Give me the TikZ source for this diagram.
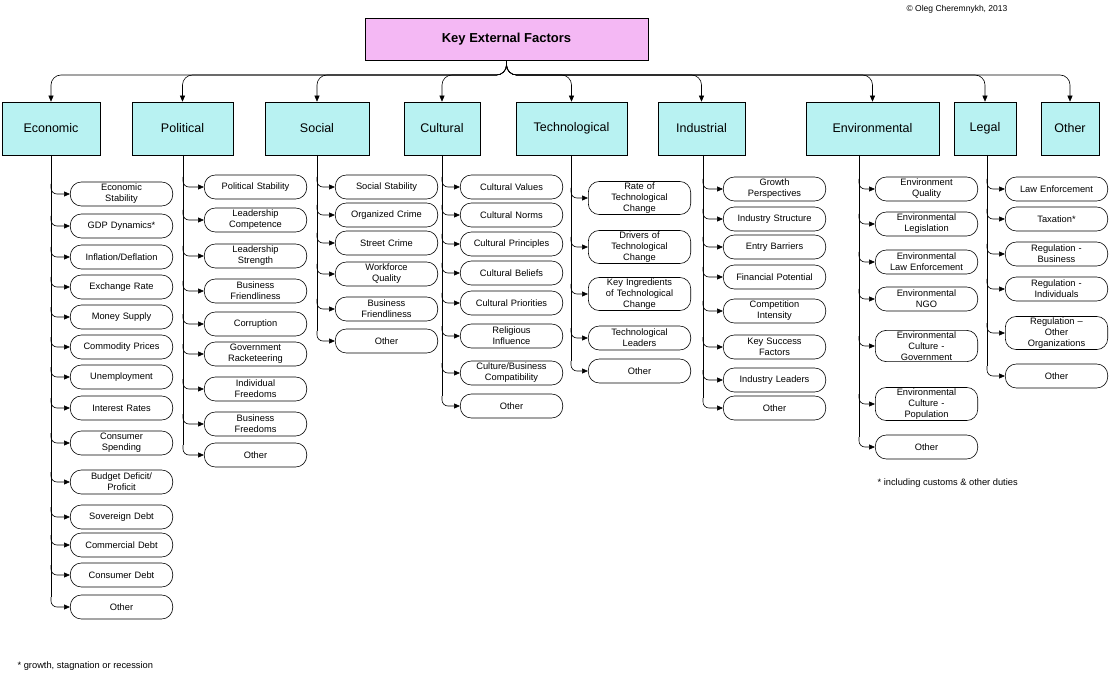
\documentclass[tikz,border=0pt]{standalone}
\usepackage{fontspec}
\setmainfont{Liberation Sans}
\usetikzlibrary{arrows.meta}
\definecolor{pinkbox}{HTML}{F4B8F4}
\definecolor{cyanbox}{HTML}{B8F2F2}
\newcommand\kidcol[4]{%
  \foreach \y/\t [count=\i] in {#4} {%
    \node[item,anchor=west] (#1\i) at (#3,\y) {\t};
    \draw[arr,rounded corners=6pt] (#2,\y-10) |- (#1\i.west);
  }%
}
\begin{document}
\begin{tikzpicture}[x=1pt,y=-1pt,line width=0.6pt,
  item/.style={draw,rounded corners=11pt,minimum width=102pt,text width=100pt,minimum height=24pt,align=center,font=\fontsize{9.3}{11}\selectfont,inner sep=1.2pt},
  hdr/.style={draw,fill=cyanbox,font=\fontsize{12.5}{14}\selectfont,minimum height=53pt,inner sep=1pt},
  arr/.style={-{Triangle[length=6pt,width=5pt]}},
  line/.style={draw}]
\useasboundingbox (0,0) rectangle (1109,679);
\node[draw,fill=pinkbox,minimum width=283pt,minimum height=42pt,font=\bfseries\fontsize{13}{15}\selectfont] (top) at (506.5,39) {Key External Factors};
\node[font=\fontsize{8.5}{10}\selectfont] (copy) at (957,9) {© Oleg Cheremnykh, 2013};
\node[hdr,minimum width=98pt] (eco) at (51,128.5) {Economic};
\node[hdr,minimum width=101pt] (pol) at (182.5,128.5) {Political};
\node[hdr,minimum width=104pt] (soc) at (317,128.5) {Social};
\node[hdr,minimum width=76pt] (cul) at (442,128.5) {Cultural};
\node[hdr,minimum width=111pt] (tec) at (571.5,128.5) {Technological};
\node[hdr,minimum width=87pt] (ind) at (701.5,128.5) {Industrial};
\node[hdr,minimum width=133pt] (env) at (872.5,128.5) {Environmental};
\node[hdr,minimum width=62pt] (leg) at (985,128.5) {Legal};
\node[hdr,minimum width=58pt] (oth) at (1070,128.5) {Other};
\foreach \h in {eco,pol,soc,cul,tec,ind,env,leg,oth}
  \draw[arr,rounded corners=10pt] (top.south) -- (506.5,75) -| (\h.north);
% columns
\draw[line] (51,155) -- (51,597);
\kidcol{e}{51}{70}{194/{Economic\\Stability},226/{GDP Dynamics*},257/{Inflation/Deflation},287/{Exchange Rate},317/{Money Supply},347/{Commodity Prices},377/{Unemployment},408/{Interest Rates},443/{Consumer\\Spending},482/{Budget Deficit/\\Proficit},517/{Sovereign Debt},545/{Commercial Debt},575/{Consumer Debt},607/{Other}}
\draw[line] (183,155) -- (183,445);
\kidcol{p}{183}{204}{187/{Political Stability},220/{Leadership\\Competence},256/{Leadership\\Strength},291/{Business\\Friendliness},324/{Corruption},354/{Government\\Racketeering},389/{Individual\\Freedoms},424/{Business\\Freedoms},455/{Other}}
\draw[line] (317,155) -- (317,331);
\kidcol{s}{317}{335}{187/{Social Stability},215/{Organized Crime},243/{Street Crime},274/{Workforce\\Quality},309/{Business\\Friendliness},341/{Other}}
\draw[line] (442,155) -- (442,396);
\kidcol{c}{442}{460}{187/{Cultural Values},215/{Cultural Norms},244/{Cultural Principles},273/{Cultural Beliefs},303/{Cultural Priorities},336/{Religious\\Influence},373/{Culture/Business\\Compatibility},406/{Other}}
\draw[line] (571,155) -- (571,361);
\kidcol{t}{571}{588}{198/{Rate of\\Technological\\Change},247/{Drivers of\\Technological\\Change},294/{Key Ingredients\\of Technological\\Change},338/{Technological\\Leaders},371/{Other}}
\draw[line] (703,155) -- (703,398);
\kidcol{i}{703}{723}{189/{Growth\\Perspectives},219/{Industry Structure},247/{Entry Barriers},277/{Financial Potential},311/{Competition\\Intensity},347/{Key Success\\Factors},380/{Industry Leaders},408/{Other}}
\draw[line] (859,155) -- (859,437);
\kidcol{v}{859}{875}{189/{Environment\\Quality},224/{Environmental\\Legislation},262/{Environmental\\Law Enforcement},299/{Environmental\\NGO},346/{Environmental\\Culture -\\Government},404/{Environmental\\Culture -\\Population},447/{Other}}
\draw[line] (987,155) -- (987,366);
\kidcol{l}{987}{1005}{189/{Law Enforcement},219/{Taxation*},254/{Regulation -\\Business},289/{Regulation -\\Individuals},333/{Regulation --\\Other\\Organizations},376/{Other}}
\node[anchor=west,font=\fontsize{9.3}{11}\selectfont] (n1) at (874,483) {* including customs \& other duties};
\node[anchor=west,font=\fontsize{9.3}{11}\selectfont] (n2) at (14,666) {* growth, stagnation or recession};
\end{tikzpicture}
\end{document}
